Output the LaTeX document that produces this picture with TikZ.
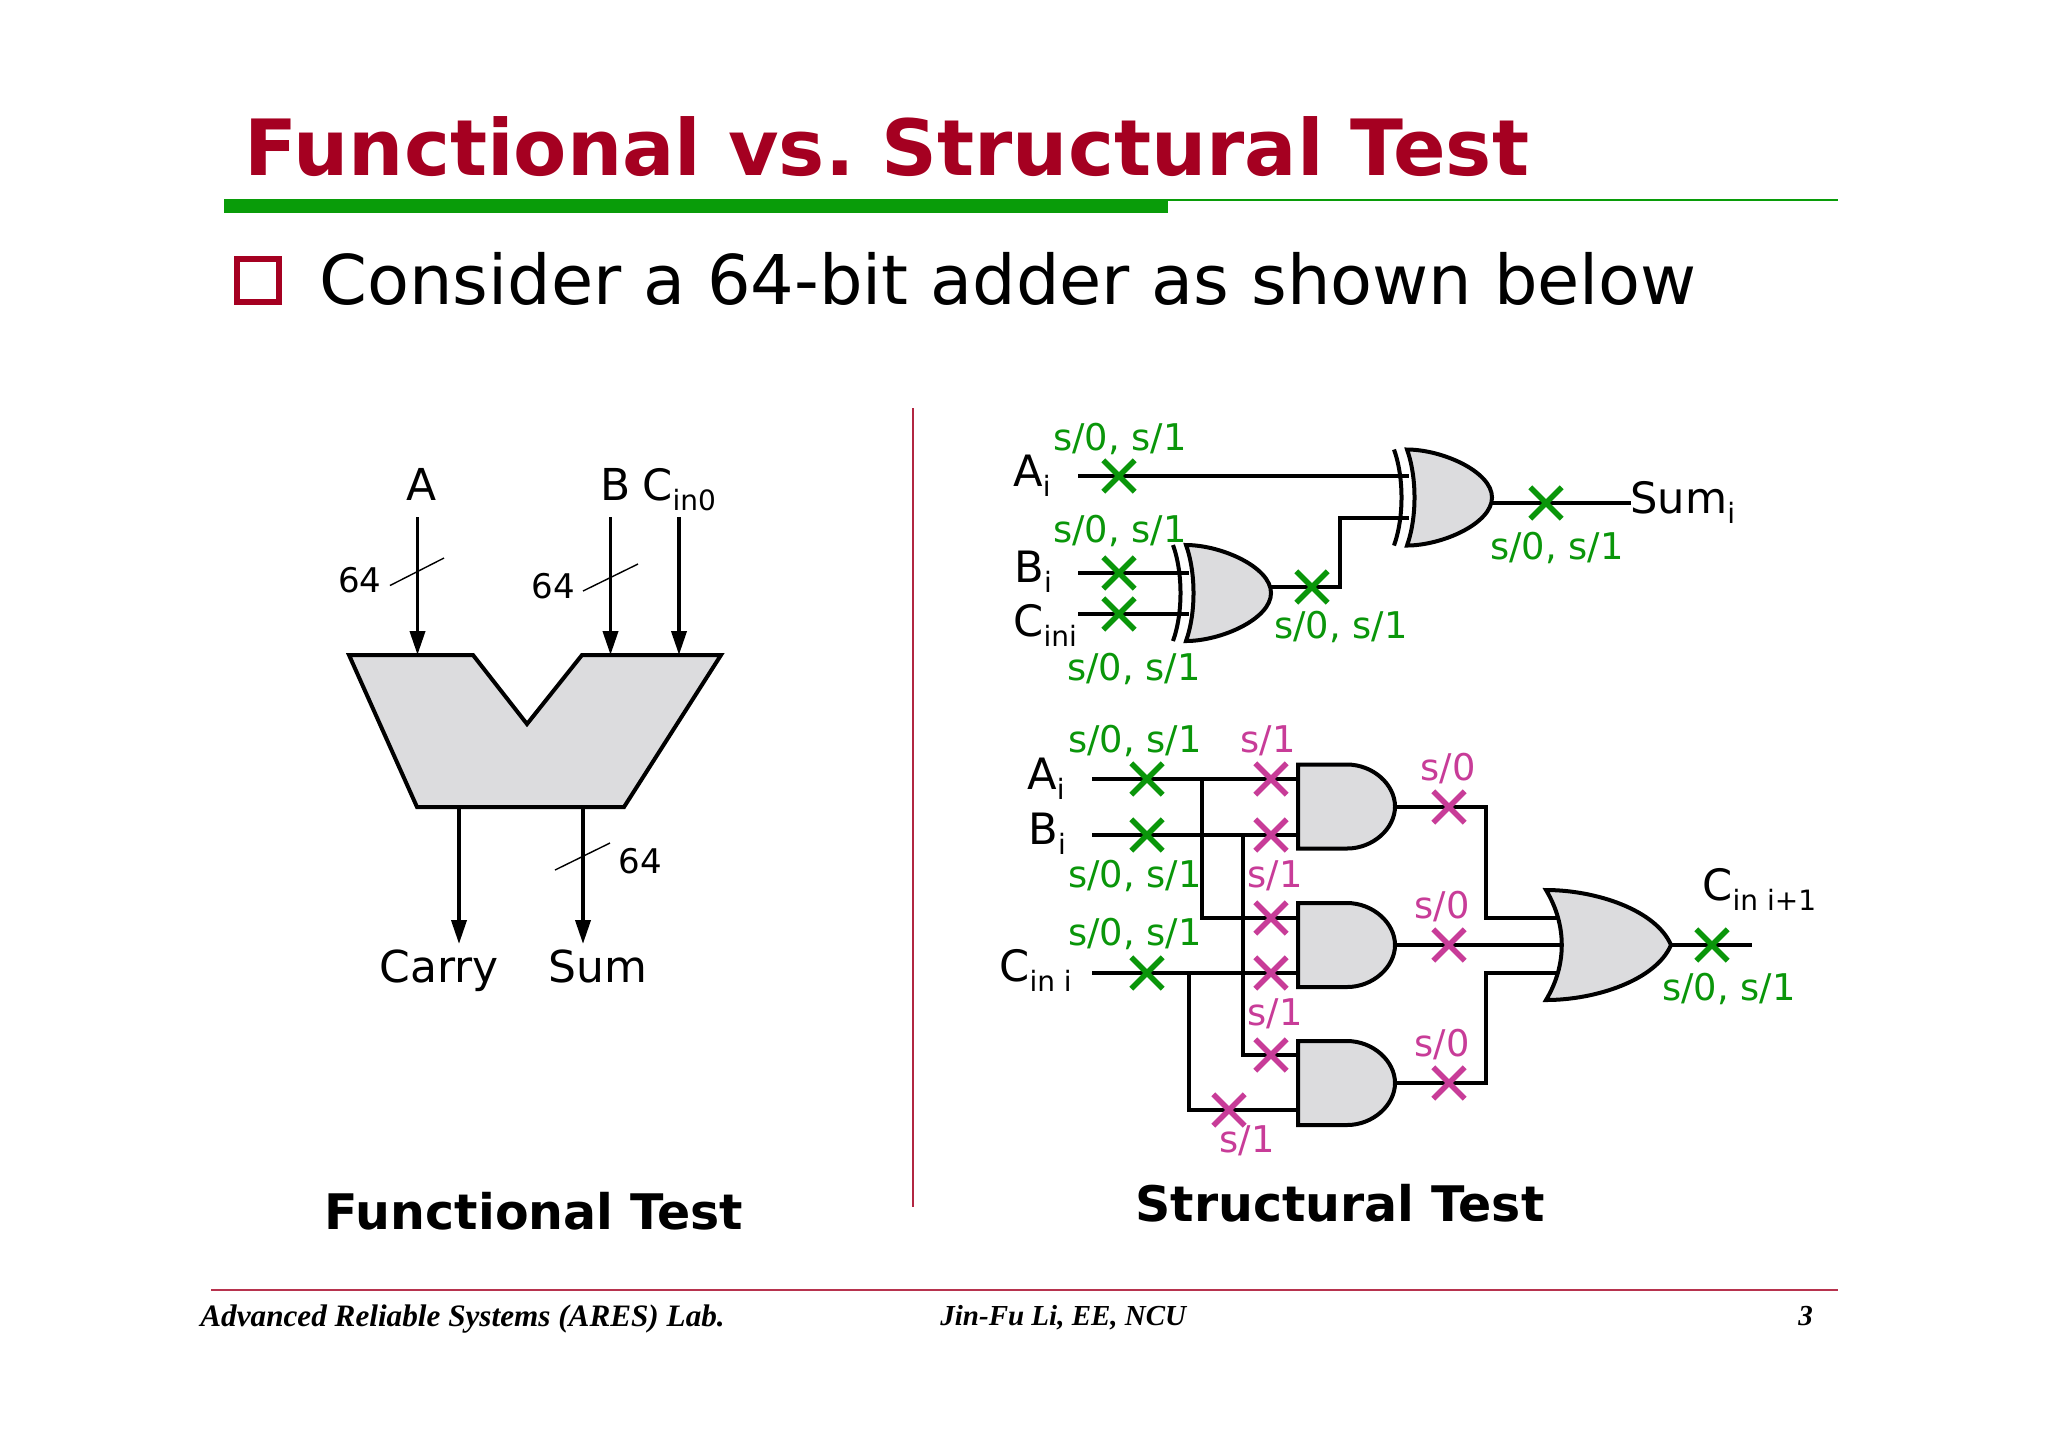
\documentclass[tikz,border=0pt]{standalone}
\usepackage{fontspec}
\setmainfont{DejaVu Sans}
\newfontfamily\footfont{Liberation Serif}
\usetikzlibrary{arrows.meta,shapes.misc}
\definecolor{titlered}{HTML}{A50021}
\definecolor{bargreen}{HTML}{099C09}
\definecolor{faultgreen}{HTML}{0A960A}
\definecolor{faultpink}{HTML}{C83C98}
\definecolor{gategrey}{HTML}{DCDCDE}
\newcommand{\sbs}[1]{\raisebox{-5pt}{\fontsize{14}{16}\selectfont #1}}
\tikzset{
  txt/.style={inner sep=0pt,anchor=base},
  txtw/.style={inner sep=0pt,anchor=base west},
  sig/.style={txtw,font=\fontsize{21.6}{25}\selectfont},
  bigl/.style={txt,font=\fontsize{22}{25}\selectfont},
  small/.style={txt,font=\fontsize{17}{20}\selectfont},
  gl/.style={txt,text=faultgreen,font=\fontsize{18.4}{21}\selectfont},
  pl/.style={txt,text=faultpink,font=\fontsize{18.4}{21}\selectfont},
  foot/.style={inner sep=0pt,anchor=base west,font=\footfont\bfseries\itshape\fontsize{14.5}{17}\selectfont},
  head/.style={txt,font=\bfseries\fontsize{24.5}{28}\selectfont},
  wire/.style={line width=1.9pt,black},
  arr/.style={line width=1.9pt,black,-{Triangle[length=12pt,width=7.5pt]}},
  slash/.style={line width=0.7pt,black},
  gatebody/.style={fill=gategrey,draw=black,line width=2pt,line join=miter},
  xg/.style={cross out,draw=faultgreen,line width=2.7pt,minimum width=13pt,minimum height=13pt,inner sep=0pt},
  xp/.style={cross out,draw=faultpink,line width=2.7pt,minimum width=13pt,minimum height=13pt,inner sep=0pt},
  xorshape/.pic={
    \draw[gatebody] (0,-48) .. controls (35,-48) and (85,-26) .. (85,0)
      .. controls (85,26) and (35,48) .. (0,48)
      .. controls (10,20) and (10,-20) .. (0,-48) -- cycle;
    \draw[line width=2pt,black] (-13,-48) .. controls (-3,-20) and (-3,20) .. (-13,48);
  },
  bigor/.pic={
    \draw[gatebody] (0,-55) .. controls (50,-55) and (110,-35) .. (125,0)
      .. controls (110,35) and (50,55) .. (0,55)
      .. controls (21,20) and (21,-20) .. (0,-55) -- cycle;
  },
  andshape/.pic={
    \draw[gatebody] (0,-42) -- (49,-42) .. controls (75,-42) and (97,-22) .. (97,0)
      .. controls (97,22) and (75,42) .. (49,42) -- (0,42) -- cycle;
  }
}
\begin{document}
\frenchspacing
\begin{tikzpicture}[x=0.5pt,y=-0.5pt]
\useasboundingbox[fill=white] (0,0) rectangle (2048,1448);

% header
\node[txtw,text=titlered,font=\bfseries\fontsize{38.8}{46}\selectfont] (title) at (244,175) {Functional vs. Structural Test};
\fill[bargreen] (224,199) rectangle (1168,213);
\coordinate (ruleL) at (1168,200);
\coordinate (ruleR) at (1838,200);
\draw[bargreen,line width=1pt] (ruleL) -- (ruleR);
\draw[titlered,line width=3pt] (236.5,258.5) rectangle (279,301.5);
\node[txtw,font=\fontsize{34.3}{42}\selectfont] (lead) at (319,304) {Consider a 64-bit adder as shown below};

% divider and footer
\coordinate (divT) at (913,408);
\coordinate (divB) at (913,1207);
\draw[titlered!85!white,line width=0.9pt] (divT) -- (divB);
\coordinate (footL) at (211,1290);
\coordinate (footR) at (1838,1290);
\draw[titlered!80!white,line width=0.7pt] (footL) -- (footR);
\node[foot,font=\footfont\bfseries\itshape\fontsize{15.6}{17}\selectfont] (f1) at (200,1326) {Advanced Reliable Systems (ARES) Lab.};
\node[foot] (f2) at (940,1325) {Jin-Fu Li, EE, NCU};
\node[foot] (f3) at (1798,1325) {3};

% ---------- functional test ----------
\draw[gatebody,line join=miter] (349,655) -- (473,655) -- (527,724) -- (582,655) -- (721,655) -- (624,807) -- (417,807) -- cycle;
\node[bigl] (lA) at (422,500) {A};
\node[bigl] (lB) at (616,500) {B};
\node[sig] (lC) at (642,500) {C\sbs{in0}};
\coordinate (aS) at (417.5,517); \coordinate (aE) at (417.5,655);
\coordinate (bS) at (610.5,517); \coordinate (bE) at (610.5,655);
\coordinate (cS) at (679,517); \coordinate (cE) at (679,655);
\coordinate (oS) at (459,807); \coordinate (oE) at (459,944);
\coordinate (sS) at (583,807); \coordinate (sE) at (583,944);
\draw[arr] (aS) -- (aE);
\draw[arr] (bS) -- (bE);
\draw[arr] (cS) -- (cE);
\draw[arr] (oS) -- (oE);
\draw[arr] (sS) -- (sE);
\coordinate (t1a) at (390,585.5); \coordinate (t1b) at (444,558);
\coordinate (t2a) at (583,591); \coordinate (t2b) at (638,564);
\coordinate (t3a) at (555,870); \coordinate (t3b) at (610,843);
\draw[slash] (t1a) -- (t1b);
\draw[slash] (t2a) -- (t2b);
\draw[slash] (t3a) -- (t3b);
\node[small] (n1) at (360,592) {64};
\node[small] (n2) at (553,598) {64};
\node[small] (n3) at (640,873) {64};
\node[bigl] (lCarry) at (439,982) {Carry};
\node[bigl] (lSum) at (598,982) {Sum};
\node[head] (hF) at (534,1229) {Functional Test};
\node[head] (hS) at (1340,1221) {Structural Test};

% ---------- sum logic ----------
\begin{scope}[shift={(0,1)}]
\coordinate (sA) at (1078,475); \coordinate (sAe) at (1409,475);
\coordinate (sB) at (1078,572); \coordinate (sBe) at (1189,572);
\coordinate (sC) at (1078,613); \coordinate (sCe) at (1189,613);
\coordinate (x1o) at (1269,586); \coordinate (x1k) at (1340,586);
\coordinate (x2i) at (1409,517); \coordinate (x2o) at (1491,502); \coordinate (sumE) at (1631,502);
\draw[wire] (sA) -- (sAe);
\draw[wire] (sB) -- (sBe);
\draw[wire] (sC) -- (sCe);
\draw[wire] (x1o) -- (x1k) |- (x2i);
\draw[wire] (x2o) -- (sumE);
\pic at (1186,592) {xorshape};
\pic at (1407,496.5) {xorshape};
\node[xg] (m1) at (1119,475) {};
\node[xg] (m2) at (1119,572) {};
\node[xg] (m3) at (1119,613) {};
\node[xg] (m4) at (1312,586) {};
\node[xg] (m5) at (1546,502) {};
\end{scope}
\node[gl] (g1) at (1120,450) {s/0, s/1};
\node[gl] (g2) at (1120,542) {s/0, s/1};
\node[gl] (g3) at (1134,680) {s/0, s/1};
\node[gl] (g4) at (1341,638) {s/0, s/1};
\node[gl] (g5) at (1557,559) {s/0, s/1};
\node[sig] (sl1) at (1013,486) {A\sbs{i}};
\node[sig] (sl2) at (1014,582) {B\sbs{i}};
\node[sig] (sl3) at (1013,636) {C\sbs{ini}};
\node[sig] (sl4) at (1630,513) {Sum\sbs{i}};

% ---------- carry logic ----------
\begin{scope}[shift={(0,1)}]
\coordinate (cA) at (1092,778); \coordinate (cAe) at (1298,778);
\coordinate (cB) at (1092,834); \coordinate (cBe) at (1298,834);
\coordinate (cC) at (1092,972); \coordinate (cCe) at (1298,972);
\coordinate (jA) at (1202,778); \coordinate (a2i) at (1298,917);
\coordinate (jB) at (1243,834); \coordinate (a3i) at (1298,1054);
\coordinate (jC) at (1189,972); \coordinate (a3j) at (1298,1109);
\coordinate (a1o) at (1395,806); \coordinate (or1) at (1562,917);
\coordinate (a2o) at (1395,944); \coordinate (or2) at (1562,944);
\coordinate (a3o) at (1395,1082); \coordinate (or3) at (1562,972);
\coordinate (orO) at (1670,944); \coordinate (cOut) at (1752,944);
\coordinate (k1) at (1486,806); \coordinate (k3) at (1486,1082);
\draw[wire] (cA) -- (cAe);
\draw[wire] (cB) -- (cBe);
\draw[wire] (cC) -- (cCe);
\draw[wire] (jA) |- (a2i);
\draw[wire] (jB) |- (a3i);
\draw[wire] (jC) |- (a3j);
\draw[wire] (a1o) -- (k1) |- (or1);
\draw[wire] (a2o) -- (or2);
\draw[wire] (a3o) -- (k3) |- (or3);
\draw[wire] (orO) -- (cOut);
\pic at (1298,805.5) {andshape};
\pic at (1298,944) {andshape};
\pic at (1298,1082) {andshape};
\pic at (1546,944) {bigor};
\node[xg] (m6) at (1147,778) {};
\node[xg] (m7) at (1147,834) {};
\node[xg] (m8) at (1147,972) {};
\node[xg] (m9) at (1712,944) {};
\node[xp] (p1) at (1271,778) {};
\node[xp] (p2) at (1271,834) {};
\node[xp] (p3) at (1271,917) {};
\node[xp] (p4) at (1271,972) {};
\node[xp] (p5) at (1271,1054) {};
\node[xp] (p6) at (1229,1109) {};
\node[xp] (p7) at (1449,806) {};
\node[xp] (p8) at (1449,944) {};
\node[xp] (p9) at (1449,1082) {};
\end{scope}
\node[gl] (g6) at (1135,752) {s/0, s/1};
\node[gl] (g7) at (1135,887) {s/0, s/1};
\node[gl] (g8) at (1135,945) {s/0, s/1};
\node[gl] (g9) at (1729,1000) {s/0, s/1};
\node[pl] (q1) at (1268,752) {s/1};
\node[pl] (q2) at (1448,780) {s/0};
\node[pl] (q3) at (1275,887) {s/1};
\node[pl] (q4) at (1442,918) {s/0};
\node[pl] (q5) at (1275,1025) {s/1};
\node[pl] (q6) at (1442,1056) {s/0};
\node[pl] (q7) at (1247,1152) {s/1};
\node[sig] (cl1) at (1027,789) {A\sbs{i}};
\node[sig] (cl2) at (1028,844) {B\sbs{i}};
\node[sig] (cl3) at (999,981) {C\sbs{in i}};
\node[sig] (cl4) at (1702,900) {C\sbs{in i+1}};
\end{tikzpicture}
\end{document}
